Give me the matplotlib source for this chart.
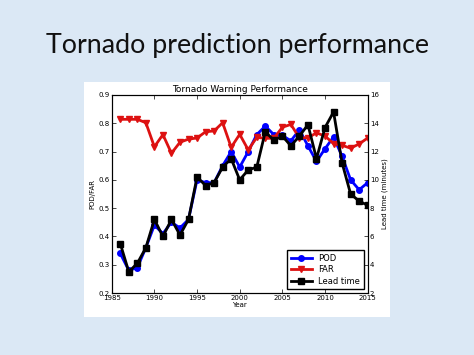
import matplotlib
matplotlib.use("Agg")
import matplotlib.pyplot as plt
from matplotlib.patches import Rectangle

# Data
years = list(range(1986, 2016))
pod = [0.34, 0.28, 0.29, 0.36, 0.44, 0.41, 0.45, 0.43, 0.46, 0.60,
       0.59, 0.59, 0.65, 0.70, 0.645, 0.70, 0.76, 0.79, 0.76, 0.757,
       0.738, 0.777, 0.72, 0.665, 0.71, 0.752, 0.683, 0.60, 0.565, 0.59]
far = [0.814, 0.814, 0.814, 0.802, 0.717, 0.76, 0.694, 0.733, 0.744, 0.748,
       0.77, 0.773, 0.802, 0.715, 0.761, 0.706, 0.75, 0.747, 0.747, 0.786,
       0.796, 0.748, 0.749, 0.766, 0.755, 0.728, 0.722, 0.712, 0.727, 0.748]
lead_time = [5.5, 3.5, 4.1, 5.2, 7.2, 6.0, 7.2, 6.1, 7.2, 10.2,
             9.6, 9.8, 10.9, 11.5, 10.0, 10.7, 10.9, 13.4, 12.8, 13.1,
             12.4, 13.1, 13.9, 11.5, 13.7, 14.8, 11.2, 9.0, 8.5, 8.2]

fig = plt.figure(figsize=(4.74, 3.55), dpi=100)
fig.patch.set_facecolor("#dbe8f5")

# white panel behind the chart
fig.patches.append(Rectangle((0.1772, 0.107), 0.6456, 0.662, transform=fig.transFigure,
                             facecolor="white", edgecolor="none", zorder=-1))

fig.text(0.5, 0.85, "Tornado prediction performance", ha="center", va="baseline",
         fontsize=19.3, family=["Lato", "DejaVu Sans"], color="#111111")

ax = fig.add_axes([0.2357, 0.1746, 0.54, 0.5578])
ax2 = ax.twinx()

l1, = ax.plot(years, pod, color="blue", marker="o", lw=2, ms=4, label="POD")
l2, = ax.plot(years, far, color="#dd1111", marker="v", lw=2, ms=4, label="FAR")
l3, = ax2.plot(years, lead_time, color="black", marker="s", lw=2, ms=4, label="Lead time")

ax.set_xlim(1985, 2015)
ax.set_ylim(0.2, 0.9)
ax2.set_ylim(2, 16)
ax.set_xticks(range(1985, 2016, 5))
ax2.set_yticks(range(2, 17, 2))

ax.tick_params(top=True)
for a in (ax, ax2):
    a.tick_params(labelsize=5, length=3, width=0.5, direction="in", pad=1.5)
    for s in a.spines.values():
        s.set_linewidth(0.8)

ax.set_xlabel("Year", fontsize=5, labelpad=1)
ax.set_ylabel("POD/FAR", fontsize=5, labelpad=2)
ax2.set_ylabel("Lead time (minutes)", fontsize=5, labelpad=2)
ax.set_title("Tornado Warning Performance", fontsize=6.5, pad=2)

ax2.legend(handles=[l1, l2, l3], loc="lower right", fontsize=6, fancybox=False,
           edgecolor="black", framealpha=1, handlelength=2.5, borderpad=0.4,
           labelspacing=0.3)

fig.savefig("out.png", dpi=100, facecolor=fig.get_facecolor())
